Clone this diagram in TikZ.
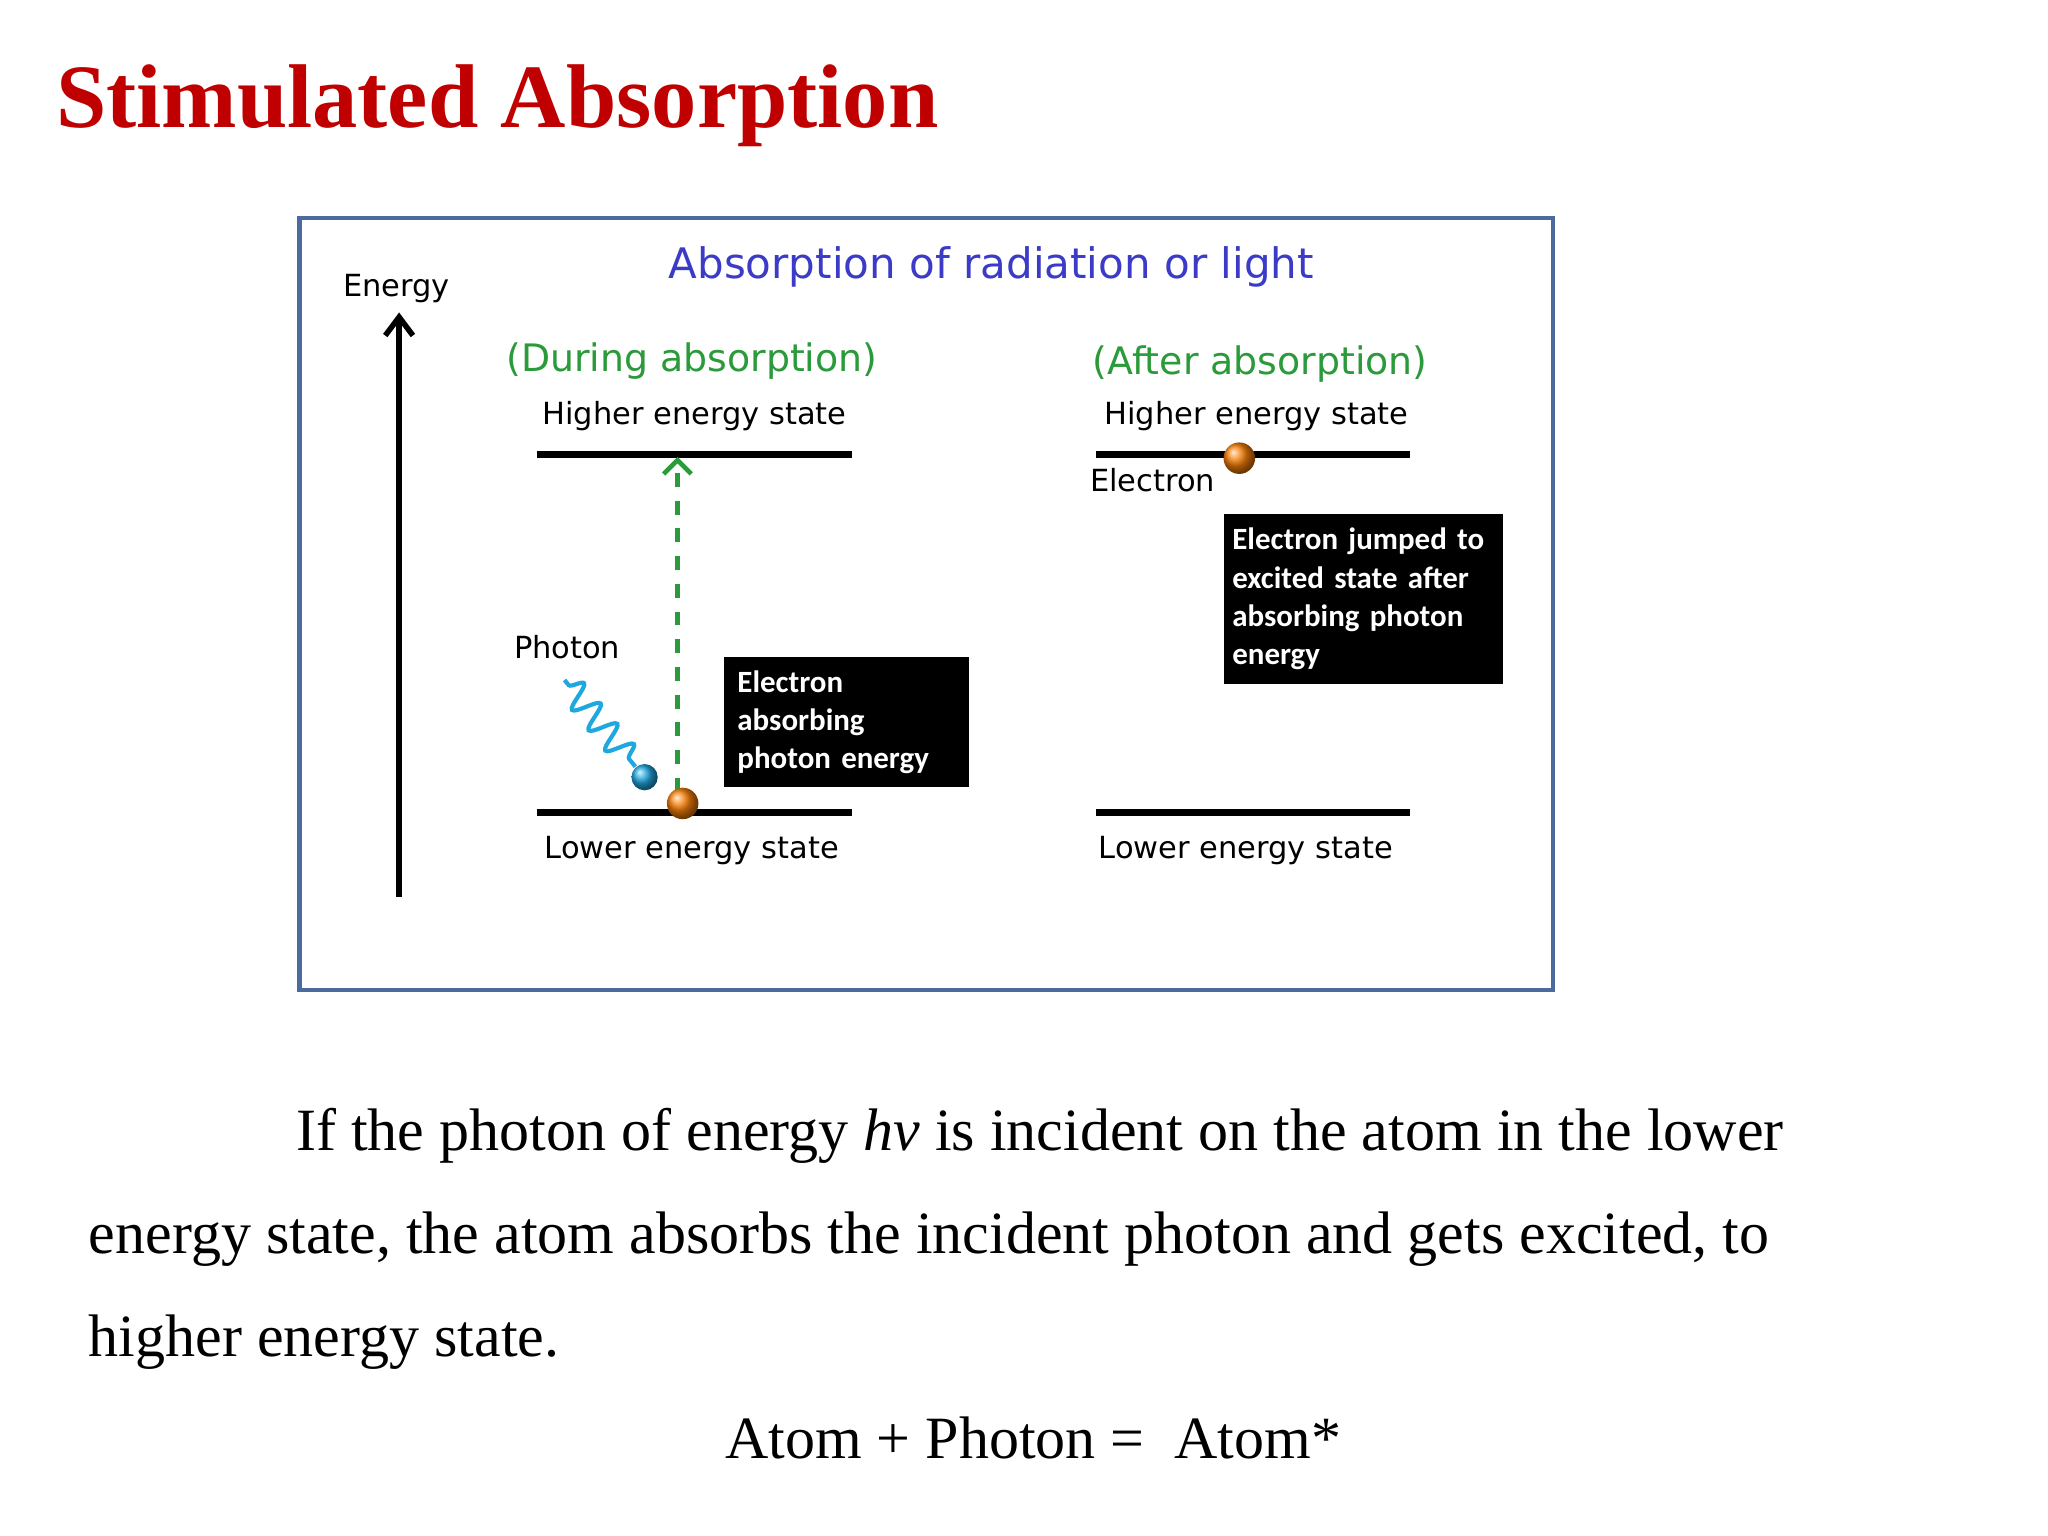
\documentclass[tikz,border=0pt]{standalone}
\usepackage{fontspec}
\setmainfont{Liberation Serif}
\newfontfamily\lab{DejaVu Sans}
\newfontfamily\boxf{Carlito}
\usetikzlibrary{decorations.pathmorphing,arrows.meta}
\definecolor{frameblue}{HTML}{4A6AA0}
\definecolor{titlered}{HTML}{C00000}
\definecolor{hblue}{HTML}{3B3BC8}
\definecolor{dgreen}{HTML}{2A9A3A}
\definecolor{cyanw}{HTML}{1FA8E0}
\begin{document}
\begin{tikzpicture}[x=0.01cm,y=-0.01cm,
  lbl/.style={font=\lab\fontsize{6.6}{8}\selectfont,inner sep=0},
  sub/.style={font=\lab\fontsize{8.2}{10}\selectfont,text=dgreen,inner sep=0},
  level/.style={line width=1.5pt},
  blackbox/.style={fill=black,text=white,align=left,font=\boxf\bfseries\fontsize{6.7}{8.3}\selectfont,inner sep=0,anchor=north west},
  body/.style={font=\fontsize{13}{15}\selectfont,inner sep=0,anchor=base west}]
\useasboundingbox (0,0) rectangle (1560,1170);
\fill[white] (0,0) rectangle (1560,1170);
\node[anchor=base west,inner sep=0,text=titlered,font=\bfseries\fontsize{19.6}{24}\selectfont] (title) at (42,97) {Stimulated Absorption};
\draw[frameblue,line width=1pt] (228,166) rectangle (1183,754);
\node[lbl] (energy) at (302,220) {Energy};
\coordinate (ebot) at (304,683);
\coordinate (etop) at (304,238);
\draw[line width=1.2pt,-{Straight Barb[length=4pt,width=6pt]}] (ebot) -- (etop);
\node[font=\lab\fontsize{9.1}{11}\selectfont,text=hblue,inner sep=0] (head) at (755,203) {Absorption of radiation or light};
\node[sub] (during) at (527,275) {(During absorption)};
\node[sub] (after) at (960,277) {(After absorption)};
\node[lbl] (h1) at (529,317) {Higher energy state};
\node[lbl] (h2) at (957,317) {Higher energy state};
\coordinate (u1a) at (409,346); \coordinate (u1b) at (649,346);
\coordinate (u2a) at (835,346); \coordinate (u2b) at (1074,346);
\coordinate (l1a) at (409,619); \coordinate (l1b) at (649,619);
\coordinate (l2a) at (835,619); \coordinate (l2b) at (1074,619);
\draw[level] (u1a) -- (u1b); \draw[level] (u2a) -- (u2b);
\draw[level] (l1a) -- (l1b); \draw[level] (l2a) -- (l2b);
\node[lbl] (lo1) at (527,648) {Lower energy state};
\node[lbl] (lo2) at (949,648) {Lower energy state};
\node[lbl] (elab) at (878,366) {Electron};
\shade[ball color=orange!90!brown] (944,349) circle (12);
\node[circle,minimum size=0.24cm,inner sep=0] (e2) at (944,349) {};
\node[blackbox,minimum height=1.29cm,text width=2.0cm,inner xsep=0.06cm,inner ysep=0.1cm] (box2) at (932,391) {Electron jumped to\\excited state after\\absorbing photon\\energy};
\node[lbl] (photon) at (432,493) {Photon};
\coordinate (ws) at (430,518);
\coordinate (we) at (484,584);
\draw[cyanw,line width=0.9pt,decorate,decoration={snake,segment length=0.2cm,amplitude=0.1cm,pre length=0.05cm,post length=0.05cm}] (ws) -- (we);
\shade[ball color=cyanw] (491,592) circle (10);
\coordinate (gs) at (516,603);
\coordinate (ge) at (516,348);
\draw[dgreen,line width=1pt,dashed,-{Straight Barb[length=3pt,width=6pt]}] (gs) -- (ge);
\shade[ball color=orange!90!brown] (520,612) circle (12);
\node[circle,minimum size=0.24cm,inner sep=0] (e1) at (520,612) {};
\node[blackbox,minimum height=0.99cm,text width=1.66cm,inner xsep=0.1cm,inner ysep=0.1cm] (box1) at (551,500) {Electron\\absorbing\\photon energy};
\node[body] (p1) at (225,876) {If the photon of energy \textit{hv} is incident on the atom in the lower};
\node[body] (p2) at (67,955) {energy state, the atom absorbs the incident photon and gets excited, to};
\node[body] (p3) at (67,1033) {higher energy state.};
\node[body,anchor=base] (eq) at (787,1111) {Atom + Photon =~~Atom*};
\end{tikzpicture}
\end{document}
